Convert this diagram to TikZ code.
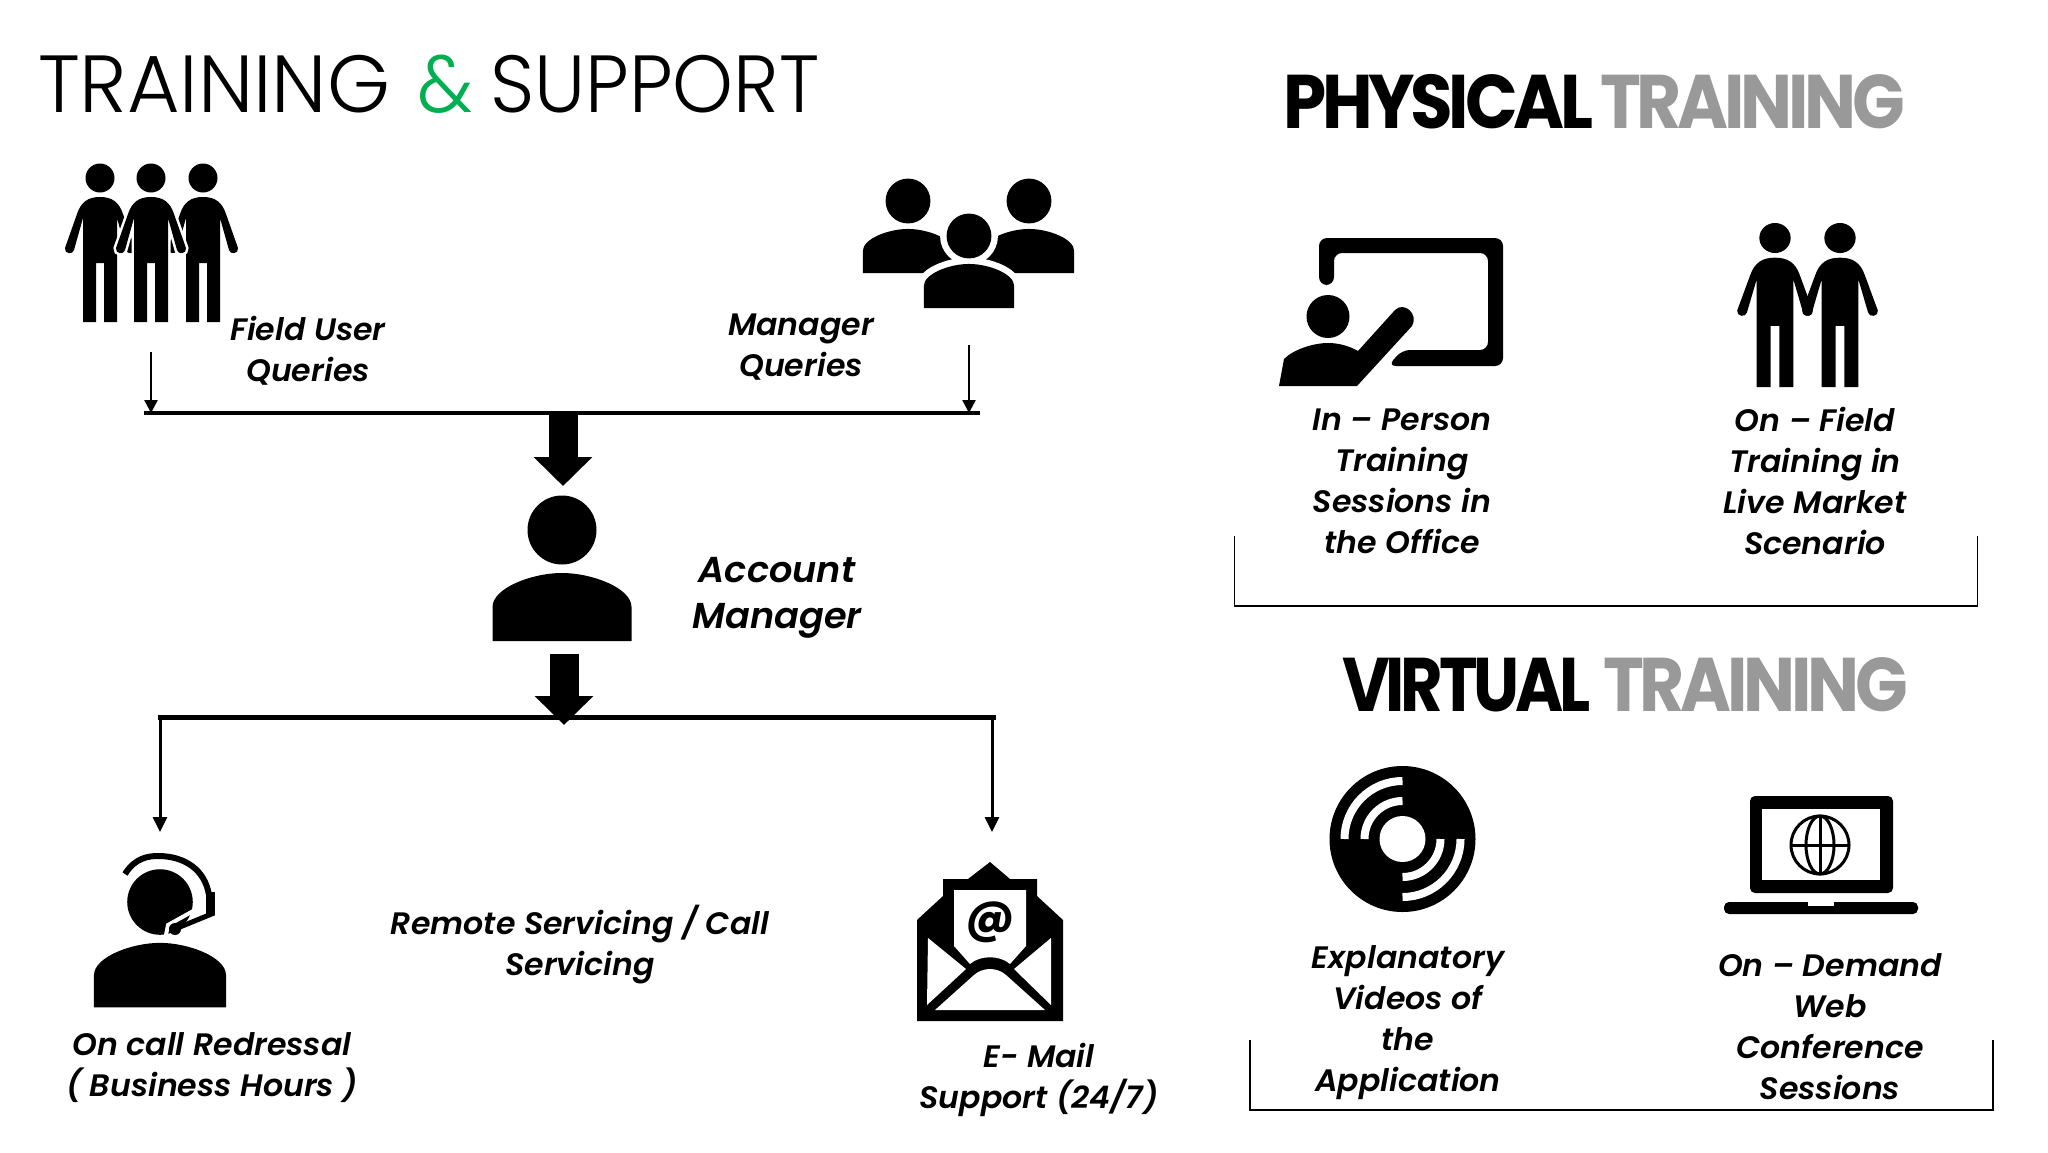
\documentclass[tikz,border=0pt]{standalone}
\usepackage{fontspec}
\usetikzlibrary{arrows.meta,calc}
\newfontfamily\lblfont{Poppins SemiBold Italic}[FakeStretch=1.02]
\newfontfamily\titlefont{Poppins Light}[FakeStretch=0.995]
\newfontfamily\titlefontb{Poppins Light}[FakeStretch=0.955]
\newfontfamily\headfont{Poppins Bold}[LetterSpace=-5.5,FakeStretch=0.91]
\newfontfamily\virtfont{Poppins Bold}[LetterSpace=-5.5,FakeStretch=0.86]
\newfontfamily\atfont{Poppins Bold}
\definecolor{ampgreen}{RGB}{0,176,80}
\definecolor{headgray}{RGB}{153,153,153}

\begin{document}
\begin{tikzpicture}[x=1pt, y=-1pt, outer sep = 0pt,
  lbl/.style={font=\lblfont\fontsize{31}{41}\selectfont, align=center, inner sep=0pt},
  biglbl/.style={font=\lblfont\fontsize{36}{46}\selectfont, align=center, inner sep=0pt},
  title/.style={font=\titlefont\fontsize{81}{81}\selectfont, anchor=base west, inner sep=0pt},
  titleb/.style={font=\titlefontb\fontsize{81}{81}\selectfont, anchor=base west, inner sep=0pt},
  head/.style={font=\headfont\fontsize{76}{76}\selectfont, anchor=base west, inner sep=0pt},
  thinarrow/.style={line width=2.5, -{Triangle[width=13pt,length=13pt]}},
  downarrow/.style={line width=3, -{Triangle[width=14pt,length=15pt]}},
  bigarrow/.style={line width=29, -{Triangle[width=57pt,length=29pt]}},
  bar/.style={line width=4.5},
  brace/.style={line width=1.5},
  man/.pic={
    \def\manbody{(0,19) .. controls (12,19) and (19,24) .. (23,36) -- (35,70) .. controls (36,76) and (27,77) .. (26,72) -- (17,40) -- (17,144) -- (4,144) -- (4,85) -- (-4,85) -- (-4,144) -- (-17,144) -- (-17,40) -- (-26,72) .. controls (-27,77) and (-36,76) .. (-35,70) -- (-23,36) .. controls (-19,24) and (-12,19) .. (0,19) -- cycle}
    \path[pic actions] \manbody;
    \fill \manbody;
    \fill (0,0) circle(14.5);
  },
  bust/.pic={
    \def\bustbody{(-69.5,111) -- (-69.5,77) .. controls (-69.5,58) and (-30,43) .. (0,43) .. controls (30,43) and (69.5,58) .. (69.5,77) -- (69.5,111) -- cycle}
    \path[pic actions] \bustbody;
    \path[pic actions] (0,0) circle(34.5);
    \fill \bustbody;
    \fill (0,0) circle(34.5);
  }]

\useasboundingbox (0,0) rectangle (2048,1152);
\fill[white] (0,0) rectangle (2048,1152);

% headings
\node [title] (title) at (38,112) {TRAINING};
\node [titleb, ampgreen] (title2) at (417,112) {\&};
\node [titleb] (title3) at (490,112) {SUPPORT};
\node [head] (physical) at (1283,128) {PHYSICAL};
\node [head, headgray] (physical2) at (1600,128) {TRAINING};
\node [head, font=\virtfont\fontsize{76}{76}\selectfont] (virtual) at (1342,711) {VIRTUAL};
\node [head, headgray] (virtual2) at (1603,711) {TRAINING};

% field users and managers
\pic at (100,178) {man};
\pic at (203,178) {man};
\pic[draw=white, line width=5] at (151,178) {man};

\pic[scale=0.65] at (908,201) {bust};
\pic[scale=0.65] at (1029,201) {bust};
\pic[scale=0.65, draw=white, line width=13] at (969,236) {bust};

\node [lbl] (field) at (308,351) {Field User\\Queries};
\node [lbl] (mgrq)  at (801,347) {Manager\\Queries};

\coordinate (fieldout) at (151,352);
\coordinate (mgrout)   at (969,345);
\coordinate (bar1a)    at (144,413);
\coordinate (bar1b)    at (980,413);
\coordinate (fieldin)  at (151,413);
\coordinate (mgrin)    at (969,413);
\draw[bar] (bar1a) -- (bar1b);
\draw[thinarrow] (fieldout) -- (fieldin);
\draw[thinarrow] (mgrout) -- (mgrin);

% account manager
\coordinate (big1a) at (563,413);
\coordinate (big1b) at (563,486);
\coordinate (big2a) at (564,654);
\coordinate (big2b) at (564,725);
\draw[bigarrow] (big1a) -- (big1b);
\draw[bigarrow] (big2a) -- (big2b);
\pic at (562,530) {bust};
\node [biglbl] (acct) at (777,597.5) {Account\\Manager};

\coordinate (bar2a) at (158,717.5);
\coordinate (bar2b) at (996,717.5);
\coordinate (leftin)  at (160,717.5);
\coordinate (rightin) at (992,717.5);
\coordinate (leftend)  at (160,832);
\coordinate (rightend) at (992,832);
\draw[bar] (bar2a) -- (bar2b);
\draw[downarrow] (leftin) -- (leftend);
\draw[downarrow] (rightin) -- (rightend);

% call agent
\pic[scale=0.95] at (160,902) {bust};
\draw[white, line width=4] (195,910) -- (168,925) -- (165,940);
\draw[line width=6] (125,874) .. controls (135,858) and (148,856) .. (158,856) .. controls (185,856) and (205,870) .. (209,895);
\fill (206,892) rectangle (215,915);
\draw[line width=5] (214,913) -- (175,929);
\fill (175,929) circle(6);
\node [lbl] (agent) at (212,1068) {On call Redressal\\( Business Hours )};
\node [lbl] (remote) at (580,945) {Remote Servicing / Call\\Servicing};

% mail
\begin{scope}[shift={(-5,-3)}]
\fill (922,1024) -- (922,923) -- (948,899) -- (948,882) -- (973,882) -- (995,865) -- (1015,882) -- (1042,882) -- (1042,899) -- (1068,923) -- (1068,1024) -- cycle;
\fill[white] (959,893) -- (1031,893) -- (1031,949) -- (1015,967) .. controls (1005,958) and (985,958) .. (975,967) -- (959,949) -- cycle;
\fill[white] (933,941) -- (971,972) -- (932,1008) -- cycle;
\fill[white] (1056,941) -- (1019,972) -- (1056,1008) -- cycle;
\fill[white] (940,1013) -- (979,978) .. controls (988,970) and (1002,970) .. (1011,978) -- (1050,1013) -- cycle;
\node [inner sep=0pt, font=\atfont\fontsize{46}{46}\selectfont] (at) at (995,925) {@};
\end{scope}
\node [lbl] (email) at (1039,1080) {E- Mail\\Support (24/7)};

% teacher
\fill[rounded corners=8] (1319,285) -- (1319,238) -- (1503,238) -- (1503,366) -- (1388,366) -- (1402,350) -- (1488,350) -- (1488,253) -- (1334,253) -- (1334,285) -- cycle;
\fill (1328,316.5) circle(21.5);
\fill (1279,386) -- (1284,359) .. controls (1294,349) and (1314,343) .. (1328,343) .. controls (1339,343) and (1349,346) .. (1358,351) -- (1395,310) .. controls (1404,301) and (1419,314) .. (1412,326) -- (1357,386) -- cycle;
\node [lbl] (inperson) at (1402,481) {In – Person\\Training\\Sessions in\\the Office};

% on field
\pic[xscale=1.08, yscale=1.035] at (1775,238) {man};
\pic[xscale=1.08, yscale=1.035] at (1840,238) {man};
\node [lbl] (onfield) at (1815,481) {On – Field\\Training in\\Live Market\\Scenario};

\coordinate (b1a) at (1234.5,536);
\coordinate (b1b) at (1234.5,606);
\coordinate (b1c) at (1977.5,606);
\coordinate (b1d) at (1977.5,536);
\draw[brace] (b1a) -- (b1b) -- (b1c) -- (b1d);

% disc
\coordinate (disc) at (1402.5,839);
\fill (disc) circle(73);
\fill[white] (disc) circle(23);
\draw[white, line width=8] ($(disc)+(0,-58)$) arc[start angle=90, end angle=180, radius=58, y radius=-58];
\draw[white, line width=8] ($(disc)+(0,-38)$) arc[start angle=90, end angle=180, radius=38, y radius=-38];
\draw[white, line width=8] ($(disc)+(0,58)$) arc[start angle=270, end angle=360, radius=58, y radius=-58];
\draw[white, line width=8] ($(disc)+(0,38)$) arc[start angle=270, end angle=360, radius=38, y radius=-38];
\node [lbl] (videos) at (1408,1023) {Explanatory\\Videos of\\the\\Application};

% laptop
\coordinate (globe) at (1820,845);
\fill[rounded corners=5] (1750,893) -- (1750,796) -- (1893,796) -- (1893,893) -- cycle;
\fill[white] (1762,809) rectangle (1880,880);
\fill[rounded corners=5] (1724,902) -- (1918,902) -- (1918,914) -- (1724,914) -- cycle;
\fill[white] (1808,902) rectangle (1834,906);
\draw[line width=3] (globe) circle(29);
\draw[line width=3] (globe) ellipse[x radius=14, y radius=29];
\draw[line width=3] ($(globe)+(-29,0)$) -- ($(globe)+(29,0)$);
\draw[line width=3] ($(globe)+(0,-29)$) -- ($(globe)+(0,29)$);
\node [lbl] (webconf) at (1830,1027) {On – Demand\\Web\\Conference\\Sessions};

\coordinate (b2a) at (1250,1040);
\coordinate (b2b) at (1250,1110);
\coordinate (b2c) at (1993,1110);
\coordinate (b2d) at (1993,1040);
\draw[brace] (b2a) -- (b2b) -- (b2c) -- (b2d);

\end{tikzpicture}
\end{document}
